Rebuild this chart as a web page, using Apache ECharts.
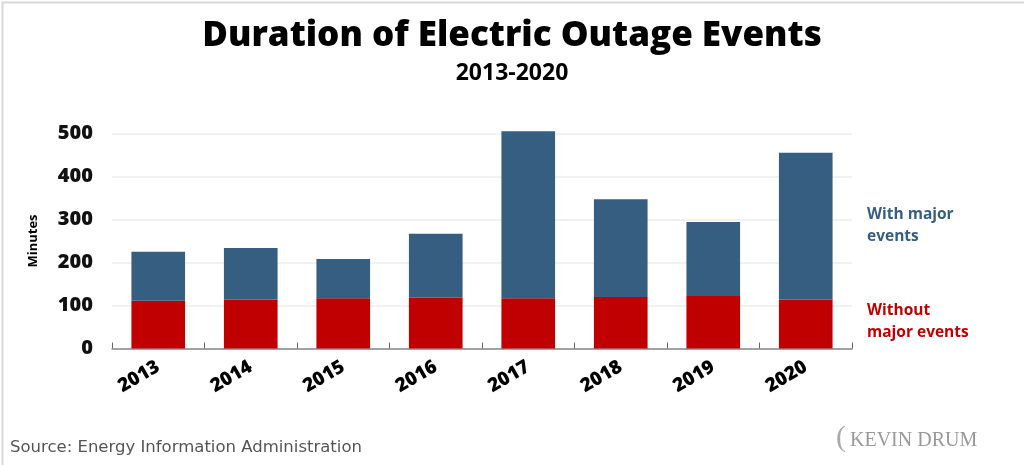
<!DOCTYPE html>
<html>
<head>
<meta charset="utf-8">
<script src="https://cdn.jsdelivr.net/npm/echarts@6/dist/echarts.min.js"></script>
<style>
html,body{margin:0;padding:0;background:#fff;}
#c{width:1024px;height:465px;}
</style>
</head>
<body>
<div id="c"></div>
<script>
const years = ['2013','2014','2015','2016','2017','2018','2019','2020'];
const withMajorEvents = [225, 234, 208, 267, 505, 347, 294, 455];
const withoutMajorEvents = [111, 114, 117, 118, 117, 120, 122, 114];
const yTicks = [0, 100, 200, 300, 400, 500];

const majorPart = withMajorEvents.map((v, i) => v - withoutMajorEvents[i]);

const chart = echarts.init(document.getElementById('c'));
chart.setOption({
  backgroundColor: '#fff',
  animation: false,
  title: [
    {text: 'Duration of Electric Outage Events', left: 'center', top: 14,
     textStyle: {fontFamily: 'Open Sans', fontWeight: 800, fontSize: 35, color: '#000'}},
    {text: '2013-2020', left: 'center', top: 57,
     textStyle: {fontFamily: 'Open Sans', fontWeight: 'bold', fontSize: 23, color: '#000'}}
  ],
  grid: {left: 112, right: 172, top: 133.5, bottom: 116.5},
  xAxis: {
    type: 'category', data: years,
    axisLine: {lineStyle: {color: '#888', width: 1.5}},
    axisTick: {show: true, inside: true, length: 6, lineStyle: {color: '#666'}},
    axisLabel: {rotate: 30, margin: 17, fontFamily: 'Open Sans', fontWeight: 800, fontSize: 19, color: '#000'}
  },
  yAxis: {
    type: 'value', min: 0, max: 500, interval: 100,
    name: 'Minutes', nameLocation: 'middle', nameGap: 72, nameRotate: 90,
    nameTextStyle: {fontFamily: 'Open Sans', fontWeight: 'bold', fontSize: 13, color: '#000'},
    axisLine: {show: false}, axisTick: {show: false},
    axisLabel: {margin: 19, fontFamily: 'Open Sans', fontWeight: 800, fontSize: 20, color: '#111',
      formatter: v => yTicks.includes(v) ? String(v) : ''},
    splitLine: {lineStyle: {color: '#ececec', width: 1.5}}
  },
  series: [
    {name: 'Without major events', type: 'bar', stack: 't', data: withoutMajorEvents,
     barWidth: '58%', clip: false, itemStyle: {color: '#c00000'}},
    {name: 'With major events', type: 'bar', stack: 't', data: majorPart,
     barWidth: '58%', clip: false, itemStyle: {color: '#365e80'}}
  ],
  graphic: [
    {type: 'rect', left: 0, top: 0, shape: {width: 1023, height: 464},
     style: {fill: 'none', stroke: '#d8d8d8', lineWidth: 2}},
    {type: 'text', left: 867, top: 204,
     style: {text: 'With major\nevents', fill: '#365e80', font: 'bold 15.5px "Open Sans"', lineHeight: 22}},
    {type: 'text', left: 867, top: 300,
     style: {text: 'Without\nmajor events', fill: '#c00000', font: 'bold 15.5px "Open Sans"', lineHeight: 22}},
    {type: 'text', left: 10, top: 439,
     style: {text: 'Source: Energy Information Administration', fill: '#555', font: '16.5px "DejaVu Sans"'}},
    {type: 'text', left: 850, top: 431,
     style: {text: 'KEVIN DRUM', fill: '#999', font: '20px "Liberation Serif"'}},
    {type: 'text', left: 836, top: 423,
     style: {text: '(', fill: '#aaa', font: '30px "Liberation Serif"'}}
  ]
});
</script>
</body>
</html>
